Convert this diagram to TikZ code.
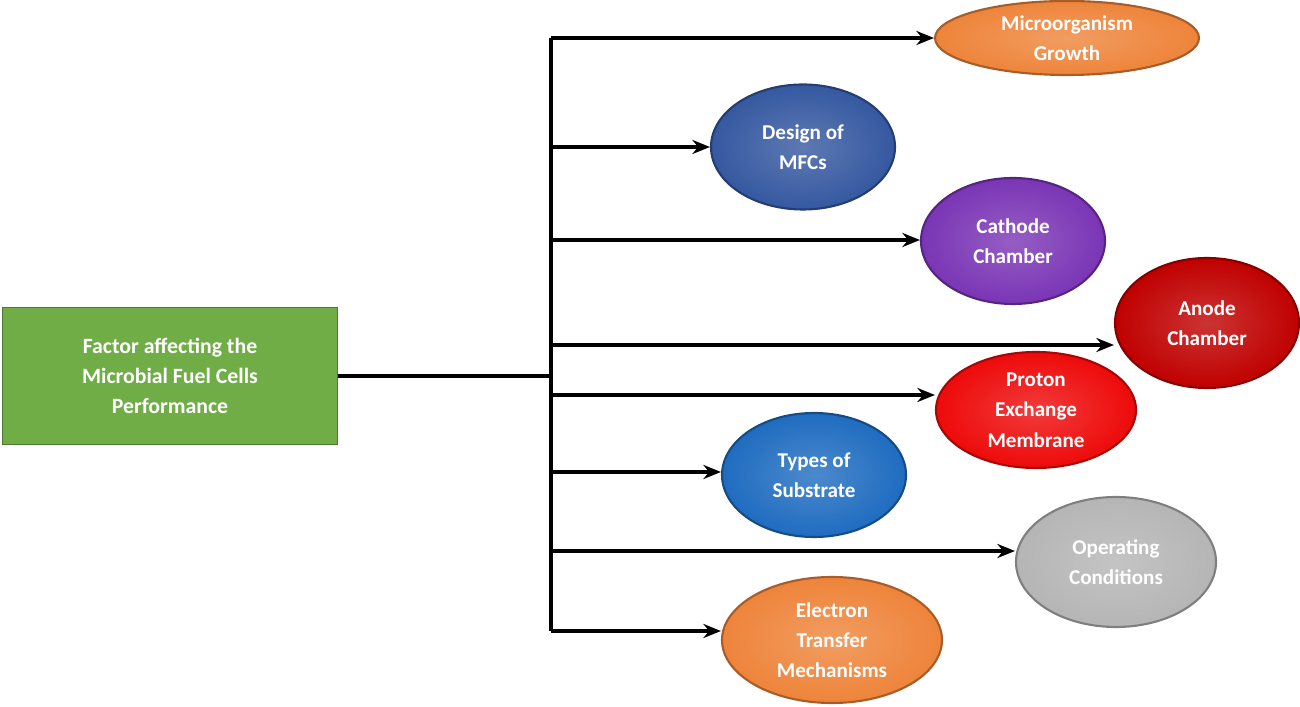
\documentclass[tikz,border=0pt]{standalone}
\usepackage{fontspec}
\setmainfont{Carlito}
\usetikzlibrary{arrows.meta,shapes.geometric}
\begin{document}
\begin{tikzpicture}[x=0.01cm,y=-0.01cm,
 ell/.style={ellipse,draw=#1!70!black,line width=0.6pt,inner color=#1!80!white,outer color=#1,text=white,font=\fontsize{6}{8.6}\selectfont\bfseries,align=center,inner sep=0pt},
 arr/.style={-{Stealth[length=5pt,width=4pt]},line width=1pt},
 ln/.style={line width=1pt}]
\useasboundingbox (0,0) rectangle (1300,707);
\definecolor{cOr}{HTML}{EE843A}
\definecolor{cBl}{HTML}{3558A0}
\definecolor{cPu}{HTML}{7A35B5}
\definecolor{cDr}{HTML}{C00000}
\definecolor{cRd}{HTML}{EE0A0A}
\definecolor{cB2}{HTML}{1F6CC0}
\definecolor{cGr}{HTML}{B5B5B5}
\definecolor{cGn}{HTML}{70AD47}
\node[draw=cGn!70!black,fill=cGn,minimum width=335*0.01cm,minimum height=137*0.01cm,text=white,font=\fontsize{6.2}{8.6}\selectfont\bfseries,align=center] (f) at (170,376) {Factor affecting the\\Microbial Fuel Cells\\Performance};
\node[ell=cOr,minimum width=264*0.01cm,minimum height=74*0.01cm] (n1) at (1067,38) {Microorganism\\Growth};
\node[ell=cBl,minimum width=184*0.01cm,minimum height=125*0.01cm] (n2) at (803,147) {Design of\\MFCs};
\node[ell=cPu,minimum width=184*0.01cm,minimum height=126*0.01cm] (n3) at (1013,241) {Cathode\\Chamber};
\node[ell=cDr,minimum width=184*0.01cm,minimum height=130*0.01cm] (n4) at (1207,323) {Anode\\Chamber};
\node[ell=cRd,minimum width=200*0.01cm,minimum height=116*0.01cm] (n5) at (1036,410) {Proton\\Exchange\\Membrane};
\node[ell=cB2,minimum width=184*0.01cm,minimum height=124*0.01cm] (n6) at (814,475) {Types of\\Substrate};
\node[ell=cGr,minimum width=200*0.01cm,minimum height=130*0.01cm] (n7) at (1116,562) {Operating\\Conditions};
\node[ell=cOr,minimum width=220*0.01cm,minimum height=126*0.01cm] (n8) at (832,640) {Electron\\Transfer\\Mechanisms};
\coordinate (j) at (551,376);
\coordinate (t) at (551,38);
\coordinate (b) at (551,631);
\draw[ln] (f.east) -- (j);
\draw[ln] (t) -- (b);
\foreach \n/\y in {n1/38,n2/147,n3/240,n4/345,n5/395,n6/472,n7/551,n8/631}{
 \coordinate (s\n) at (551,\y);
 \draw[arr] (s\n) -- (s\n -| \n.west);
}
\end{tikzpicture}
\end{document}
